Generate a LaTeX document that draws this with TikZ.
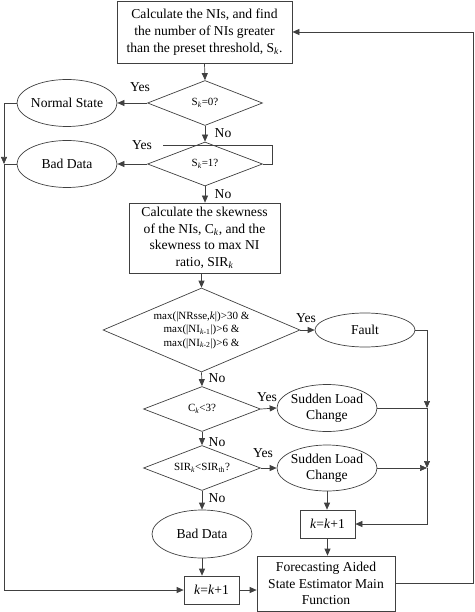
\documentclass[tikz,border=0pt]{standalone}
\usepackage{fontspec}
\setmainfont{Liberation Serif}
\usepackage{tikz}
\usetikzlibrary{shapes.geometric}
\usetikzlibrary{arrows.meta}
\tikzset{procbox/.style={draw=black!75,line width=0.7pt,rectangle,align=center,inner sep=0pt,
   font=\fontsize{13.6}{16.7}\selectfont},
 decision/.style={draw=black!75,line width=0.7pt,diamond,aspect=2.4,align=center,inner sep=0pt,
   font=\fontsize{11}{13.5}\selectfont},
 terminal/.style={draw=black!75,line width=0.7pt,ellipse,align=center,inner sep=-4pt,
   minimum width=100pt,font=\fontsize{13.6}{16.5}\selectfont},
 lbl/.style={inner sep=0pt,font=\fontsize{13.6}{16.5}\selectfont},
 line/.style={draw=black!75,line width=0.7pt},
 arr/.style={line,-{Triangle[length=7pt,width=6pt]}},
 }

\begin{document}
\begin{tikzpicture}[x=1pt,y=-1pt]
        \useasboundingbox (0,0) rectangle (474,612);
        % boxes, decisions and end states
        \node[procbox,minimum width=175pt,minimum height=62pt] (calc1) at (204.5,32)
            {Calculate the NIs, and find\\the number of NIs greater\\than the preset threshold, S\textsubscript{\textit{k}}.};
        \node[decision,minimum width=115pt,minimum height=45pt] (d1) at (205,103) {S\textsubscript{\textit{k}}=0?};
        \node[terminal,minimum height=47pt] (normal) at (67,103) {Normal State};
        \node[decision,minimum width=115pt,minimum height=44pt] (d2) at (205,164) {S\textsubscript{\textit{k}}=1?};
        \node[terminal,minimum height=47pt] (bad1) at (67,164) {Bad Data};
        \node[procbox,minimum width=151pt,minimum height=70pt] (calc2) at (204.5,238)
            {Calculate the skewness\\of the NIs, C\textsubscript{\textit{k}}, and the\\skewness to max NI\\ratio, SIR\textsubscript{\textit{k}}};
        \node[decision,minimum width=197pt,minimum height=84pt] (d3) at (201.5,330)
            {max(|NRsse,\textit{k}|)>30 \&\\max(|NI\textsubscript{\textit{k}-1}|)>6 \&\\max(|NI\textsubscript{\textit{k}-2}|)>6 \&};
        \node[terminal,minimum height=34pt] (fault) at (365,330) {Fault};
        \node[decision,minimum width=117pt,minimum height=45pt] (d4) at (202,409) {C\textsubscript{\textit{k}}<3?};
        \node[terminal,minimum height=47pt] (slc1) at (327,408) {Sudden Load\\Change};
        \node[decision,minimum width=117pt,minimum height=45pt] (d5) at (202,468) {SIR\textsubscript{\textit{k}}<SIR\textsubscript{th}?};
        \node[terminal,minimum height=46pt] (slc2) at (327,468) {Sudden Load\\Change};
        \node[procbox,minimum width=55pt,minimum height=28pt] (kk1) at (327.5,524) {\textit{k}=\textit{k}+1};
        \node[procbox,minimum width=138pt,minimum height=55pt] (fase) at (326,583.5)
            {Forecasting Aided\\State Estimator Main\\Function};
        \node[terminal,minimum height=48pt] (bad2) at (202,534) {Bad Data};
        \node[procbox,minimum width=55pt,minimum height=28pt] (kk2) at (211.5,590) {\textit{k}=\textit{k}+1};
        % branch labels
        \node[lbl] (yes1) at (140,87) {Yes};
        \node[lbl] (no1) at (223,133) {No};
        \node[lbl] (yes2) at (142,145) {Yes};
        \node[lbl] (no2) at (223,194) {No};
        \node[lbl] (yes3) at (306,318) {Yes};
        \node[lbl] (no3) at (217,378) {No};
        \node[lbl] (yes4) at (267,397) {Yes};
        \node[lbl] (no4) at (217,442) {No};
        \node[lbl] (yes5) at (263,453) {Yes};
        \node[lbl] (no5) at (217,498) {No};
        % junctions
        \coordinate (jl) at (4,164);
        \coordinate (jr) at (473,32);
        \coordinate (j1) at (427,408);
        \coordinate (j2) at (427,468);
        \coordinate (stub) at (163,145);
        % connectors
        \draw[arr] (calc1.south) -- (d1.north);
        \draw[arr] (d1.west) -- (normal.east);
        \draw[arr] (d1.south) -- (d2.north);
        \draw[arr] (d2.west) -- (bad1.east);
        \draw[line] (d2.east) -- ++(9,0) |- (stub);
        \draw[arr] (d2.south) -- (d2.south |- calc2.north);
        \draw[arr] (d3.north |- calc2.south) -- (d3.north);
        \draw[arr] (d3.east) -- (fault.west);
        \draw[arr] (d3.south) -- (d4.north);
        \draw[arr] (d4.east) -- (slc1.west);
        \draw[arr] (d4.south) -- (d5.north);
        \draw[arr] (d5.east) -- (slc2.west);
        \draw[arr] (d5.south) -- (bad2.north);
        \draw[arr] (slc2.south) -- (slc2.south |- kk1.north);
        \draw[arr] (kk1.south) -- (kk1.south |- fase.north);
        \draw[arr] (bad2.south) -- (bad2.south |- kk2.north);
        \draw[arr] (kk2.east) -- (kk2.east -| fase.west);
        \draw[arr] (fault.east) -| (j1);
        \draw[line] (slc1.east) -- (j1);
        \draw[arr] (j1) -- (j2);
        \draw[arr] (slc2.east) -- (j2);
        \draw[arr] (j2) |- (kk1.east);
        \draw[arr] (normal.west) -| (jl);
        \draw[line] (bad1.west) -- (jl);
        \draw[arr] (jl) |- (kk2.west);
        \draw[arr] (fase.east) -| (jr) -- (calc1.east);
    \end{tikzpicture}
\end{document}
